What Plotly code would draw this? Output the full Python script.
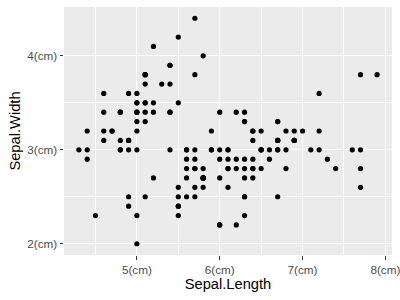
import plotly.graph_objects as go

sepal_length = [
    5.1,4.9,4.7,4.6,5.0,5.4,4.6,5.0,4.4,4.9,5.4,4.8,4.8,4.3,5.8,5.7,5.4,5.1,5.7,5.1,
    5.4,5.1,4.6,5.1,4.8,5.0,5.0,5.2,5.2,4.7,4.8,5.4,5.2,5.5,4.9,5.0,5.5,4.9,4.4,5.1,
    5.0,4.5,4.4,5.0,5.1,4.8,5.1,4.6,5.3,5.0,
    7.0,6.4,6.9,5.5,6.5,5.7,6.3,4.9,6.6,5.2,5.0,5.9,6.0,6.1,5.6,6.7,5.6,5.8,6.2,5.6,
    5.9,6.1,6.3,6.1,6.4,6.6,6.8,6.7,6.0,5.7,5.5,5.5,5.8,6.0,5.4,6.0,6.7,6.3,5.6,5.5,
    5.5,6.1,5.8,5.0,5.6,5.7,5.7,6.2,5.1,5.7,
    6.3,5.8,7.1,6.3,6.5,7.6,4.9,7.3,6.7,7.2,6.5,6.4,6.8,5.7,5.8,6.4,6.5,7.7,7.7,6.0,
    6.9,5.6,7.7,6.3,6.7,7.2,6.2,6.1,6.4,7.2,7.4,7.9,6.4,6.3,6.1,7.7,6.3,6.4,6.0,6.9,
    6.7,6.9,5.8,6.8,6.7,6.7,6.3,6.5,6.2,5.9,
]
sepal_width = [
    3.5,3.0,3.2,3.1,3.6,3.9,3.4,3.4,2.9,3.1,3.7,3.4,3.0,3.0,4.0,4.4,3.9,3.5,3.8,3.8,
    3.4,3.7,3.6,3.3,3.4,3.0,3.4,3.5,3.4,3.2,3.1,3.4,4.1,4.2,3.1,3.2,3.5,3.6,3.0,3.4,
    3.5,2.3,3.2,3.5,3.8,3.0,3.8,3.2,3.7,3.3,
    3.2,3.2,3.1,2.3,2.8,2.8,3.3,2.4,2.9,2.7,2.0,3.0,2.2,2.9,2.9,3.1,3.0,2.7,2.2,2.5,
    3.2,2.8,2.5,2.8,2.9,3.0,2.8,3.0,2.9,2.6,2.4,2.4,2.7,2.7,3.0,3.4,3.1,2.3,3.0,2.5,
    2.6,3.0,2.6,2.3,2.7,3.0,2.9,2.9,2.5,2.8,
    3.3,2.7,3.0,2.9,3.0,3.0,2.5,2.9,2.5,3.6,3.2,2.7,3.0,2.5,2.8,3.2,3.0,3.8,2.6,2.2,
    3.2,2.8,2.8,2.7,3.3,3.2,2.8,3.0,2.8,3.0,2.8,3.8,2.8,2.8,2.6,3.0,3.4,3.1,3.0,3.1,
    3.1,3.1,2.7,3.2,3.3,3.0,2.5,3.0,3.4,3.0,
]
x_ticks = [5, 6, 7, 8]
x_tick_labels = ["5(cm)", "6(cm)", "7(cm)", "8(cm)"]
y_ticks = [2, 3, 4]
y_tick_labels = ["2(cm)", "3(cm)", "4(cm)"]
x_minor = [4.5, 5.5, 6.5, 7.5]
y_minor = [2.5, 3.5]

fig = go.Figure(go.Scatter(
    x=sepal_length, y=sepal_width, mode="markers",
    marker=dict(color="black", size=5.2, line=dict(width=0)),
))

font = "Liberation Sans, Arial, sans-serif"
common = dict(
    showgrid=True, gridcolor="white", gridwidth=1.1, zeroline=False,
    ticks="outside", ticklen=3.5, tickwidth=1.1, tickcolor="#333333",
    tickfont=dict(family=font, size=11.7, color="#4d4d4d"),
    showline=False, ticklabeloverflow="allow", automargin=False,
)
fig.update_xaxes(
    range=[4.12, 8.08], tickvals=x_ticks, ticktext=x_tick_labels,
    title=dict(text="Sepal.Length", font=dict(family=font, size=14.7, color="black"), standoff=3),
    minor=dict(tickvals=x_minor, showgrid=True, gridcolor="white", gridwidth=0.55, ticks=""),
    **common,
)
fig.update_yaxes(
    range=[1.88, 4.52], tickvals=y_ticks, ticktext=y_tick_labels,
    title=dict(text="Sepal.Width", font=dict(family=font, size=14.7, color="black"), standoff=3),
    minor=dict(tickvals=y_minor, showgrid=True, gridcolor="white", gridwidth=0.55, ticks=""),
    **common,
)
fig.update_layout(
    width=400, height=300,
    margin=dict(l=64, r=8, t=7, b=45),
    plot_bgcolor="#EBEBEB", paper_bgcolor="white",
    showlegend=False,
)
fig.write_html("out.html")
